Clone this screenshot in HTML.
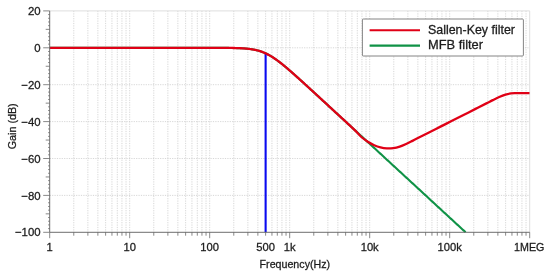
<!DOCTYPE html><html><head><meta charset="utf-8"><style>html,body{margin:0;padding:0;background:#fff}svg{display:block}text{font-family:"Liberation Sans",sans-serif;fill:#1c1c1c;stroke:#1c1c1c;stroke-width:0.28}</style></head><body>
<svg width="550" height="274" viewBox="0 0 550 274">
<rect width="550" height="274" fill="#fff"/>
<path d="M73.78 10.90V232.30M87.87 10.90V232.30M97.86 10.90V232.30M105.62 10.90V232.30M111.95 10.90V232.30M117.31 10.90V232.30M121.95 10.90V232.30M126.04 10.90V232.30M129.70 10.90V232.30M153.78 10.90V232.30M167.87 10.90V232.30M177.86 10.90V232.30M185.62 10.90V232.30M191.95 10.90V232.30M197.31 10.90V232.30M201.95 10.90V232.30M206.04 10.90V232.30M209.70 10.90V232.30M233.78 10.90V232.30M247.87 10.90V232.30M257.86 10.90V232.30M265.62 10.90V232.30M271.95 10.90V232.30M277.31 10.90V232.30M281.95 10.90V232.30M286.04 10.90V232.30M289.70 10.90V232.30M313.78 10.90V232.30M327.87 10.90V232.30M337.86 10.90V232.30M345.62 10.90V232.30M351.95 10.90V232.30M357.31 10.90V232.30M361.95 10.90V232.30M366.04 10.90V232.30M369.70 10.90V232.30M393.78 10.90V232.30M407.87 10.90V232.30M417.86 10.90V232.30M425.62 10.90V232.30M431.95 10.90V232.30M437.31 10.90V232.30M441.95 10.90V232.30M446.04 10.90V232.30M449.70 10.90V232.30M473.78 10.90V232.30M487.87 10.90V232.30M497.86 10.90V232.30M505.62 10.90V232.30M511.95 10.90V232.30M517.31 10.90V232.30M521.95 10.90V232.30M526.04 10.90V232.30M49.70 47.80H529.70M49.70 84.70H529.70M49.70 121.60H529.70M49.70 158.50H529.70M49.70 195.40H529.70" stroke="#cdcdcd" stroke-width="0.8" stroke-dasharray="1.2 1.2" fill="none"/>
<path d="M49.70 10.90H529.70V232.30" stroke="#dedede" stroke-width="1" fill="none"/>
<path d="M49.70 47.80L50.74 47.80L51.78 47.80L52.82 47.80L53.86 47.80L54.90 47.80L55.94 47.80L56.98 47.80L58.02 47.80L59.06 47.80L60.10 47.80L61.14 47.80L62.18 47.80L63.22 47.80L64.26 47.80L65.30 47.80L66.34 47.80L67.38 47.80L68.42 47.80L69.46 47.80L70.50 47.80L71.54 47.80L72.58 47.80L73.62 47.80L74.66 47.80L75.69 47.80L76.73 47.80L77.77 47.80L78.81 47.80L79.85 47.80L80.89 47.80L81.93 47.80L82.97 47.80L84.01 47.80L85.05 47.80L86.09 47.80L87.13 47.80L88.17 47.80L89.21 47.80L90.25 47.80L91.29 47.80L92.33 47.80L93.37 47.80L94.41 47.80L95.45 47.80L96.49 47.80L97.53 47.80L98.57 47.80L99.61 47.80L100.65 47.80L101.69 47.80L102.73 47.80L103.77 47.80L104.81 47.80L105.85 47.80L106.89 47.80L107.93 47.80L108.97 47.80L110.01 47.80L111.05 47.80L112.09 47.80L113.13 47.80L114.17 47.80L115.21 47.80L116.25 47.80L117.29 47.80L118.33 47.80L119.37 47.80L120.41 47.80L121.45 47.80L122.49 47.80L123.53 47.80L124.57 47.80L125.60 47.80L126.64 47.80L127.68 47.80L128.72 47.80L129.76 47.80L130.80 47.80L131.84 47.80L132.88 47.80L133.92 47.80L134.96 47.80L136.00 47.80L137.04 47.80L138.08 47.80L139.12 47.80L140.16 47.80L141.20 47.80L142.24 47.80L143.28 47.80L144.32 47.80L145.36 47.80L146.40 47.80L147.44 47.80L148.48 47.80L149.52 47.80L150.56 47.80L151.60 47.80L152.64 47.80L153.68 47.80L154.72 47.80L155.76 47.80L156.80 47.80L157.84 47.80L158.88 47.80L159.92 47.80L160.96 47.80L162.00 47.80L163.04 47.80L164.08 47.80L165.12 47.80L166.16 47.80L167.20 47.80L168.24 47.80L169.28 47.80L170.32 47.80L171.36 47.80L172.40 47.80L173.44 47.80L174.48 47.80L175.52 47.80L176.55 47.80L177.59 47.80L178.63 47.80L179.67 47.80L180.71 47.80L181.75 47.80L182.79 47.80L183.83 47.80L184.87 47.80L185.91 47.80L186.95 47.80L187.99 47.80L189.03 47.80L190.07 47.80L191.11 47.80L192.15 47.80L193.19 47.80L194.23 47.80L195.27 47.80L196.31 47.80L197.35 47.80L198.39 47.80L199.43 47.80L200.47 47.80L201.51 47.80L202.55 47.81L203.59 47.81L204.63 47.81L205.67 47.81L206.71 47.81L207.75 47.81L208.79 47.81L209.83 47.81L210.87 47.81L211.91 47.82L212.95 47.82L213.99 47.82L215.03 47.82L216.07 47.83L217.11 47.83L218.15 47.83L219.19 47.84L220.23 47.84L221.27 47.85L222.31 47.85L223.35 47.86L224.39 47.87L225.43 47.88L226.46 47.89L227.50 47.90L228.54 47.91L229.58 47.93L230.62 47.94L231.66 47.96L232.70 47.98L233.74 48.00L234.78 48.03L235.82 48.06L236.86 48.09L237.90 48.12L238.94 48.16L239.98 48.21L241.02 48.26L242.06 48.32L243.10 48.38L244.14 48.45L245.18 48.53L246.22 48.62L247.26 48.71L248.30 48.82L249.34 48.94L250.38 49.08L251.42 49.23L252.46 49.39L253.50 49.57L254.54 49.77L255.58 49.99L256.62 50.23L257.66 50.50L258.70 50.78L259.74 51.09L260.78 51.43L261.82 51.79L262.86 52.18L263.90 52.60L264.94 53.05L265.98 53.52L267.02 54.03L268.06 54.56L269.10 55.12L270.14 55.71L271.18 56.32L272.22 56.96L273.26 57.63L274.30 58.32L275.34 59.03L276.38 59.76L277.41 60.52L278.45 61.29L279.49 62.08L280.53 62.88L281.57 63.70L282.61 64.54L283.65 65.38L284.69 66.24L285.73 67.11L286.77 67.99L287.81 68.87L288.85 69.77L289.89 70.67L290.93 71.58L291.97 72.49L293.01 73.41L294.05 74.33L295.09 75.25L296.13 76.18L297.17 77.12L298.21 78.05L299.25 78.99L300.29 79.93L301.33 80.88L302.37 81.82L303.41 82.77L304.45 83.71L305.49 84.66L306.53 85.61L307.57 86.56L308.61 87.52L309.65 88.47L310.69 89.42L311.73 90.38L312.77 91.33L313.81 92.29L314.85 93.24L315.89 94.20L316.93 95.15L317.97 96.11L319.01 97.07L320.05 98.03L321.09 98.98L322.13 99.94L323.17 100.90L324.21 101.86L325.25 102.82L326.29 103.77L327.32 104.73L328.36 105.69L329.40 106.65L330.44 107.61L331.48 108.57L332.52 109.52L333.56 110.48L334.60 111.44L335.64 112.40L336.68 113.36L337.72 114.32L338.76 115.28L339.80 116.24L340.84 117.20L341.88 118.16L342.92 119.11L343.96 120.07L345.00 121.03L346.04 121.99L347.08 122.95L348.12 123.91L349.16 124.87L350.20 125.83L351.24 126.79L352.28 127.75L353.32 128.71L354.36 129.66L355.40 130.62L356.44 131.58L357.48 132.54L358.52 133.50L359.56 134.46L360.60 135.42L361.64 136.38L362.68 137.34L363.72 138.30L364.76 139.26L365.80 140.22L366.84 141.18L367.88 142.13L368.92 143.09L369.96 144.05L371.00 145.01L372.04 145.97L373.08 146.93L374.12 147.89L375.16 148.85L376.20 149.81L377.24 150.77L378.27 151.73L379.31 152.69L380.35 153.64L381.39 154.60L382.43 155.56L383.47 156.52L384.51 157.48L385.55 158.44L386.59 159.40L387.63 160.36L388.67 161.32L389.71 162.28L390.75 163.24L391.79 164.20L392.83 165.16L393.87 166.11L394.91 167.07L395.95 168.03L396.99 168.99L398.03 169.95L399.07 170.91L400.11 171.87L401.15 172.83L402.19 173.79L403.23 174.75L404.27 175.71L405.31 176.67L406.35 177.63L407.39 178.58L408.43 179.54L409.47 180.50L410.51 181.46L411.55 182.42L412.59 183.38L413.63 184.34L414.67 185.30L415.71 186.26L416.75 187.22L417.79 188.18L418.83 189.14L419.87 190.09L420.91 191.05L421.95 192.01L422.99 192.97L424.03 193.93L425.07 194.89L426.11 195.85L427.15 196.81L428.19 197.77L429.22 198.73L430.26 199.69L431.30 200.65L432.34 201.61L433.38 202.56L434.42 203.52L435.46 204.48L436.50 205.44L437.54 206.40L438.58 207.36L439.62 208.32L440.66 209.28L441.70 210.24L442.74 211.20L443.78 212.16L444.82 213.12L445.86 214.08L446.90 215.03L447.94 215.99L448.98 216.95L450.02 217.91L451.06 218.87L452.10 219.83L453.14 220.79L454.18 221.75L455.22 222.71L456.26 223.67L457.30 224.63L458.34 225.59L459.38 226.54L460.42 227.50L461.46 228.46L462.50 229.42L463.54 230.38L464.58 231.34L465.62 232.30" stroke="#0f9246" stroke-width="2.1" fill="none" stroke-linejoin="round"/>
<path d="M265.62 53.70V232.30" stroke="#0a0af0" stroke-width="2.1" fill="none"/>
<path d="M49.70 47.80L50.45 47.80L51.20 47.80L51.94 47.80L52.69 47.80L53.44 47.80L54.19 47.80L54.94 47.80L55.69 47.80L56.43 47.80L57.18 47.80L57.93 47.80L58.68 47.80L59.43 47.80L60.18 47.80L60.92 47.80L61.67 47.80L62.42 47.80L63.17 47.80L63.92 47.80L64.67 47.80L65.41 47.80L66.16 47.80L66.91 47.80L67.66 47.80L68.41 47.80L69.15 47.80L69.90 47.80L70.65 47.80L71.40 47.80L72.15 47.80L72.90 47.80L73.64 47.80L74.39 47.80L75.14 47.80L75.89 47.80L76.64 47.80L77.39 47.80L78.13 47.80L78.88 47.80L79.63 47.80L80.38 47.80L81.13 47.80L81.87 47.80L82.62 47.80L83.37 47.80L84.12 47.80L84.87 47.80L85.62 47.80L86.36 47.80L87.11 47.80L87.86 47.80L88.61 47.80L89.36 47.80L90.11 47.80L90.85 47.80L91.60 47.80L92.35 47.80L93.10 47.80L93.85 47.80L94.59 47.80L95.34 47.80L96.09 47.80L96.84 47.80L97.59 47.80L98.34 47.80L99.08 47.80L99.83 47.80L100.58 47.80L101.33 47.80L102.08 47.80L102.83 47.80L103.57 47.80L104.32 47.80L105.07 47.80L105.82 47.80L106.57 47.80L107.32 47.80L108.06 47.80L108.81 47.80L109.56 47.80L110.31 47.80L111.06 47.80L111.80 47.80L112.55 47.80L113.30 47.80L114.05 47.80L114.80 47.80L115.55 47.80L116.29 47.80L117.04 47.80L117.79 47.80L118.54 47.80L119.29 47.80L120.04 47.80L120.78 47.80L121.53 47.80L122.28 47.80L123.03 47.80L123.78 47.80L124.53 47.80L125.27 47.80L126.02 47.80L126.77 47.80L127.52 47.80L128.27 47.80L129.01 47.80L129.76 47.80L130.51 47.80L131.26 47.80L132.01 47.80L132.76 47.80L133.50 47.80L134.25 47.80L135.00 47.80L135.75 47.80L136.50 47.80L137.25 47.80L137.99 47.80L138.74 47.80L139.49 47.80L140.24 47.80L140.99 47.80L141.73 47.80L142.48 47.80L143.23 47.80L143.98 47.80L144.73 47.80L145.48 47.80L146.22 47.80L146.97 47.80L147.72 47.80L148.47 47.80L149.22 47.80L149.97 47.80L150.71 47.80L151.46 47.80L152.21 47.80L152.96 47.80L153.71 47.80L154.45 47.80L155.20 47.80L155.95 47.80L156.70 47.80L157.45 47.80L158.20 47.80L158.94 47.80L159.69 47.80L160.44 47.80L161.19 47.80L161.94 47.80L162.69 47.80L163.43 47.80L164.18 47.80L164.93 47.80L165.68 47.80L166.43 47.80L167.18 47.80L167.92 47.80L168.67 47.80L169.42 47.80L170.17 47.80L170.92 47.80L171.66 47.80L172.41 47.80L173.16 47.80L173.91 47.80L174.66 47.80L175.41 47.80L176.15 47.80L176.90 47.80L177.65 47.80L178.40 47.80L179.15 47.80L179.90 47.80L180.64 47.80L181.39 47.80L182.14 47.80L182.89 47.80L183.64 47.80L184.38 47.80L185.13 47.80L185.88 47.80L186.63 47.80L187.38 47.80L188.13 47.80L188.87 47.80L189.62 47.80L190.37 47.80L191.12 47.80L191.87 47.80L192.62 47.80L193.36 47.80L194.11 47.80L194.86 47.80L195.61 47.80L196.36 47.80L197.11 47.80L197.85 47.80L198.60 47.80L199.35 47.80L200.10 47.80L200.85 47.80L201.59 47.81L202.34 47.81L203.09 47.81L203.84 47.81L204.59 47.81L205.34 47.81L206.08 47.81L206.83 47.81L207.58 47.81L208.33 47.81L209.08 47.81L209.83 47.81L210.57 47.81L211.32 47.82L212.07 47.82L212.82 47.82L213.57 47.82L214.31 47.82L215.06 47.82L215.81 47.83L216.56 47.83L217.31 47.83L218.06 47.83L218.80 47.84L219.55 47.84L220.30 47.84L221.05 47.85L221.80 47.85L222.55 47.86L223.29 47.86L224.04 47.87L224.79 47.87L225.54 47.88L226.29 47.89L227.04 47.89L227.78 47.90L228.53 47.91L229.28 47.92L230.03 47.93L230.78 47.94L231.52 47.96L232.27 47.97L233.02 47.99L233.77 48.00L234.52 48.02L235.27 48.04L236.01 48.06L236.76 48.08L237.51 48.11L238.26 48.14L239.01 48.17L239.76 48.20L240.50 48.23L241.25 48.27L242.00 48.31L242.75 48.36L243.50 48.40L244.25 48.46L244.99 48.51L245.74 48.57L246.49 48.64L247.24 48.71L247.99 48.79L248.73 48.87L249.48 48.96L250.23 49.06L250.98 49.16L251.73 49.27L252.48 49.39L253.22 49.52L253.97 49.66L254.72 49.81L255.47 49.97L256.22 50.14L256.97 50.32L257.71 50.51L258.46 50.71L259.21 50.93L259.96 51.16L260.71 51.40L261.45 51.66L262.20 51.93L262.95 52.22L263.70 52.52L264.45 52.83L265.20 53.16L265.94 53.51L266.69 53.87L267.44 54.24L268.19 54.63L268.94 55.03L269.69 55.45L270.43 55.88L271.18 56.32L271.93 56.78L272.68 57.26L273.43 57.74L274.18 58.24L274.92 58.74L275.67 59.26L276.42 59.79L277.17 60.34L277.92 60.89L278.66 61.45L279.41 62.02L280.16 62.59L280.91 63.18L281.66 63.77L282.41 64.37L283.15 64.98L283.90 65.59L284.65 66.21L285.40 66.83L286.15 67.46L286.90 68.09L287.64 68.73L288.39 69.37L289.14 70.02L289.89 70.67L290.64 71.32L291.38 71.97L292.13 72.63L292.88 73.29L293.63 73.95L294.38 74.62L295.13 75.29L295.87 75.95L296.62 76.62L297.37 77.30L298.12 77.97L298.87 78.65L299.62 79.32L300.36 80.00L301.11 80.68L301.86 81.36L302.61 82.04L303.36 82.72L304.11 83.40L304.85 84.08L305.60 84.77L306.35 85.45L307.10 86.13L307.85 86.82L308.59 87.50L309.34 88.19L310.09 88.87L310.84 89.56L311.59 90.25L312.34 90.93L313.08 91.62L313.83 92.31L314.58 93.00L315.33 93.68L316.08 94.37L316.83 95.06L317.57 95.75L318.32 96.44L319.07 97.13L319.82 97.82L320.57 98.50L321.31 99.19L322.06 99.88L322.81 100.57L323.56 101.26L324.31 101.95L325.06 102.64L325.80 103.33L326.55 104.02L327.30 104.71L328.05 105.40L328.80 106.09L329.55 106.78L330.29 107.47L331.04 108.16L331.79 108.85L332.54 109.54L333.29 110.23L334.03 110.92L334.78 111.61L335.53 112.30L336.28 112.99L337.03 113.68L337.78 114.37L338.52 115.06L339.27 115.75L340.02 116.44L340.77 117.13L341.52 117.82L342.27 118.51L343.01 119.20L343.76 119.89L344.51 120.58L345.26 121.27L346.01 121.96L346.76 122.65L347.50 123.34L348.25 124.03L349.00 124.72C350.00 125.67 352.93 128.35 355.00 130.40C357.07 132.45 359.27 135.12 361.40 137.00C363.53 138.88 365.67 140.33 367.80 141.70C369.93 143.07 372.08 144.25 374.20 145.20C376.32 146.15 378.38 146.87 380.50 147.40C382.62 147.93 384.77 148.28 386.90 148.40C389.03 148.52 391.17 148.40 393.30 148.10C395.43 147.80 397.57 147.28 399.70 146.60C401.83 145.92 403.97 144.96 406.10 144.00C408.23 143.04 410.37 141.92 412.50 140.85C414.63 139.78 416.32 138.91 418.90 137.60C421.48 136.29 424.48 134.77 428.00 132.99C431.52 131.20 436.00 128.93 440.00 126.90C444.00 124.87 448.00 122.85 452.00 120.82C456.00 118.79 460.00 116.76 464.00 114.73C468.00 112.71 472.27 110.54 476.00 108.65C479.73 106.76 483.60 104.80 486.40 103.38C489.20 101.95 490.67 101.16 492.80 100.10C494.93 99.04 497.08 97.92 499.20 97.00C501.32 96.08 503.53 95.20 505.50 94.60C507.47 94.00 509.33 93.65 511.00 93.40C512.67 93.15 514.00 93.15 515.50 93.10C517.00 93.05 517.67 93.10 520.00 93.10C522.33 93.10 527.92 93.10 529.50 93.10" stroke="#e00016" stroke-width="2.3" fill="none" stroke-linejoin="round"/>
<path d="M49.70 10.90h-6.5M49.70 14.59h-1.6M49.70 18.28h-1.6M49.70 21.97h-1.6M49.70 25.66h-1.6M49.70 29.35h-4M49.70 33.04h-1.6M49.70 36.73h-1.6M49.70 40.42h-1.6M49.70 44.11h-1.6M49.70 47.80h-6.5M49.70 51.49h-1.6M49.70 55.18h-1.6M49.70 58.87h-1.6M49.70 62.56h-1.6M49.70 66.25h-4M49.70 69.94h-1.6M49.70 73.63h-1.6M49.70 77.32h-1.6M49.70 81.01h-1.6M49.70 84.70h-6.5M49.70 88.39h-1.6M49.70 92.08h-1.6M49.70 95.77h-1.6M49.70 99.46h-1.6M49.70 103.15h-4M49.70 106.84h-1.6M49.70 110.53h-1.6M49.70 114.22h-1.6M49.70 117.91h-1.6M49.70 121.60h-6.5M49.70 125.29h-1.6M49.70 128.98h-1.6M49.70 132.67h-1.6M49.70 136.36h-1.6M49.70 140.05h-4M49.70 143.74h-1.6M49.70 147.43h-1.6M49.70 151.12h-1.6M49.70 154.81h-1.6M49.70 158.50h-6.5M49.70 162.19h-1.6M49.70 165.88h-1.6M49.70 169.57h-1.6M49.70 173.26h-1.6M49.70 176.95h-4M49.70 180.64h-1.6M49.70 184.33h-1.6M49.70 188.02h-1.6M49.70 191.71h-1.6M49.70 195.40h-6.5M49.70 199.09h-1.6M49.70 202.78h-1.6M49.70 206.47h-1.6M49.70 210.16h-1.6M49.70 213.85h-4M49.70 217.54h-1.6M49.70 221.23h-1.6M49.70 224.92h-1.6M49.70 228.61h-1.6M49.70 232.30h-6.5M49.70 232.30v5.9M73.78 232.30v3.4M87.87 232.30v3.4M97.86 232.30v3.4M105.62 232.30v3.4M111.95 232.30v3.4M117.31 232.30v3.4M121.95 232.30v3.4M126.04 232.30v3.4M129.70 232.30v5.9M153.78 232.30v3.4M167.87 232.30v3.4M177.86 232.30v3.4M185.62 232.30v3.4M191.95 232.30v3.4M197.31 232.30v3.4M201.95 232.30v3.4M206.04 232.30v3.4M209.70 232.30v5.9M233.78 232.30v3.4M247.87 232.30v3.4M257.86 232.30v3.4M265.62 232.30v3.4M271.95 232.30v3.4M277.31 232.30v3.4M281.95 232.30v3.4M286.04 232.30v3.4M289.70 232.30v5.9M313.78 232.30v3.4M327.87 232.30v3.4M337.86 232.30v3.4M345.62 232.30v3.4M351.95 232.30v3.4M357.31 232.30v3.4M361.95 232.30v3.4M366.04 232.30v3.4M369.70 232.30v5.9M393.78 232.30v3.4M407.87 232.30v3.4M417.86 232.30v3.4M425.62 232.30v3.4M431.95 232.30v3.4M437.31 232.30v3.4M441.95 232.30v3.4M446.04 232.30v3.4M449.70 232.30v5.9M473.78 232.30v3.4M487.87 232.30v3.4M497.86 232.30v3.4M505.62 232.30v3.4M511.95 232.30v3.4M517.31 232.30v3.4M521.95 232.30v3.4M526.04 232.30v3.4M529.70 232.30v5.9" stroke="#7c7c7c" stroke-width="0.9" fill="none"/>
<path d="M49.70 10.90V232.30H529.70" stroke="#666" stroke-width="0.95" fill="none"/>
<text x="40.6" y="15.05" font-size="11.4" text-anchor="end">20</text>
<text x="40.6" y="51.95" font-size="11.4" text-anchor="end">0</text>
<text x="40.6" y="88.85" font-size="11.4" text-anchor="end">−20</text>
<text x="40.6" y="125.75" font-size="11.4" text-anchor="end">−40</text>
<text x="40.6" y="162.65" font-size="11.4" text-anchor="end">−60</text>
<text x="40.6" y="199.55" font-size="11.4" text-anchor="end">−80</text>
<text x="40.6" y="236.45" font-size="11.4" text-anchor="end">−100</text>
<text x="49.70" y="251.0" font-size="11.2" text-anchor="middle">1</text>
<text x="129.70" y="251.0" font-size="11.2" text-anchor="middle">10</text>
<text x="209.70" y="251.0" font-size="11.2" text-anchor="middle">100</text>
<text x="265.62" y="251.0" font-size="11.2" text-anchor="middle">500</text>
<text x="289.70" y="251.0" font-size="11.2" text-anchor="middle">1k</text>
<text x="369.70" y="251.0" font-size="11.2" text-anchor="middle">10k</text>
<text x="449.70" y="251.0" font-size="11.2" text-anchor="middle">100k</text>
<text x="544.4" y="251.0" font-size="11.2" text-anchor="end" textLength="30.4" lengthAdjust="spacingAndGlyphs">1MEG</text>
<text x="294.85" y="267.6" font-size="10.8" text-anchor="middle" textLength="70.5" lengthAdjust="spacingAndGlyphs">Frequency(Hz)</text>
<text transform="translate(16.2 126.3) rotate(-90)" font-size="10.8" text-anchor="middle" textLength="46" lengthAdjust="spacingAndGlyphs">Gain (dB)</text>
<rect x="362.4" y="19" width="161" height="37" rx="1" fill="#fff" stroke="#666" stroke-width="0.8"/>
<path d="M369.6 30.2H420" stroke="#e00016" stroke-width="2.1"/>
<path d="M369.6 45.6H420" stroke="#0f9246" stroke-width="2.1"/>
<text x="428" y="33.9" font-size="12.3" textLength="87" lengthAdjust="spacingAndGlyphs">Sallen-Key filter</text>
<text x="428" y="49.4" font-size="12.3" textLength="55" lengthAdjust="spacingAndGlyphs">MFB filter</text>
</svg></body></html>
